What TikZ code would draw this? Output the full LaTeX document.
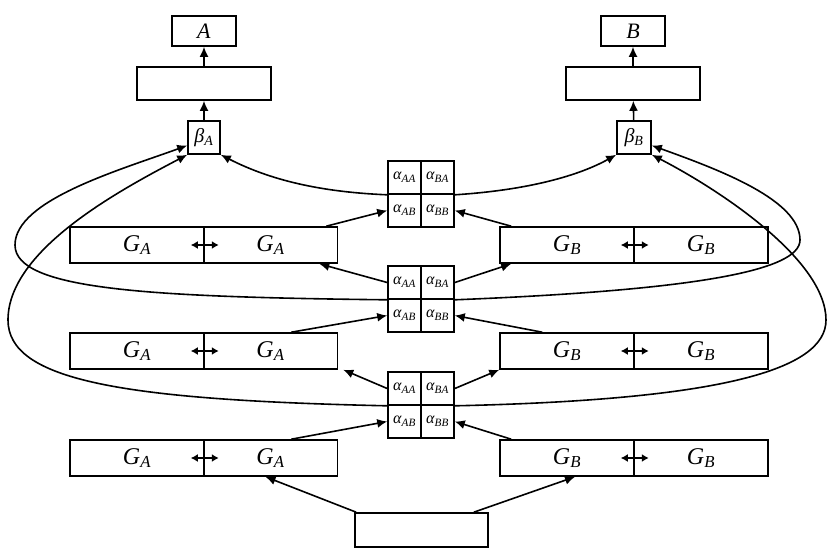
\documentclass[tikz,border=0pt]{standalone}
\usepackage{fontspec}
\setmainfont{Liberation Serif}
\usetikzlibrary{arrows.meta}
\newcommand{\ssb}[2]{\textit{#1}\textsubscript{\textit{#2}}}
\begin{document}
\begin{tikzpicture}[x=1pt,y=1pt,line width=1.6pt,
  box/.style={draw,inner sep=0pt,minimum width=#1},
  cell/.style={draw,inner sep=0pt,minimum width=33pt,minimum height=33pt,font=\fontsize{16}{16}\selectfont},
  gb/.style={draw,inner sep=0pt,minimum width=134pt,minimum height=36pt,font=\fontsize{24}{24}\selectfont},
  arr/.style={-{Latex[length=10pt,width=9pt]}},
  dbl/.style={{Latex[length=7pt,width=8pt]}-{Latex[length=7pt,width=8pt]}}]
\useasboundingbox (0,0) rectangle (832,-557);
\node[box=64pt,minimum height=30pt,font=\fontsize{22}{22}\selectfont] (A) at (204,-31) {\textit{A}};
\node[box=134pt,minimum height=33pt] (bA) at (204,-83.5) {};
\node[box=32pt,minimum height=33pt,font=\fontsize{20}{20}\selectfont] (betaA) at (204,-137.5) {\ssb{β}{A}};
\node[box=64pt,minimum height=30pt,font=\fontsize{22}{22}\selectfont] (B) at (633,-31) {\textit{B}};
\node[box=134pt,minimum height=33pt] (bB) at (633,-83.5) {};
\node[box=34pt,minimum height=33pt,font=\fontsize{20}{20}\selectfont] (betaB) at (634,-137.5) {\ssb{β}{B}};
\foreach \k/\t in {1/161,2/266,3/372}{
  \node[cell] (g\k aa) at (404.5,-\t-16.5) {\ssb{α}{AA}};
  \node[cell] (g\k ba) at (437.5,-\t-16.5) {\ssb{α}{BA}};
  \node[cell] (g\k ab) at (404.5,-\t-49.5) {\ssb{α}{AB}};
  \node[cell] (g\k bb) at (437.5,-\t-49.5) {\ssb{α}{BB}};
}
\foreach \k/\t in {1/227,2/333,3/440}{
  \node[gb] (ga\k l) at (137,-\t-18) {\ssb{G}{A}};
  \node[gb] (ga\k r) at (270.5,-\t-18) {\ssb{G}{A}};
  \node[gb] (gb\k l) at (567,-\t-18) {\ssb{G}{B}};
  \node[gb] (gb\k r) at (701,-\t-18) {\ssb{G}{B}};
  \draw[dbl] ([xshift=-14pt]ga\k l.east) -- ([xshift=14pt]ga\k l.east);
  \draw[dbl] ([xshift=-14pt]gb\k l.east) -- ([xshift=14pt]gb\k l.east);
}
\node[box=133pt,minimum height=34pt] (bot) at (421.5,-530) {};
\draw[arr] (betaA) -- (bA);
\draw[arr] (bA) -- (A);
\draw[arr] (betaB) -- (bB);
\draw[arr] (bB) -- (B);
\draw[arr] (g1aa.south west) .. controls (320,-192) and (270,-180) .. (betaA.south east);
\draw[arr] (g1ba.south east) .. controls (530,-190) and (580,-175) .. (betaB.south west);
\draw[arr] ([xshift=-12pt]ga1r.north east) -- (g1ab.west);
\draw[arr] ([xshift=12pt]gb1l.north west) -- (g1bb.east);
\draw[arr] (g2aa.west) -- ([xshift=-19pt]ga1r.south east);
\draw[arr] (g2ba.east) -- ([xshift=12pt]gb1l.south west);
\draw[arr] ([xshift=-47pt]ga2r.north east) -- (g2ab.west);
\draw[arr] ([xshift=43pt]gb2l.north west) -- (g2bb.east);
\draw[arr] (g3aa.west) -- ([xshift=5pt]ga2r.south east);
\draw[arr] (g3ba.east) -- (gb2l.south west);
\draw[arr] ([xshift=-47pt]ga3r.north east) -- (g3ab.west);
\draw[arr] ([xshift=12pt]gb3l.north west) -- (g3bb.east);
\draw[arr] ([xshift=2pt]bot.north west) -- ([xshift=-5pt]ga3r.south);
\draw[arr] ([xshift=-15pt]bot.north east) -- ([xshift=8pt]gb3l.south);
\draw[arr] (g2aa.south west) .. controls (150,-297) and (15,-290) .. (15,-245)
  .. controls (15,-200) and (120,-170) .. ([yshift=-8pt]betaA.west);
\draw[arr] (g3aa.south west) .. controls (120,-400) and (8,-380) .. (8,-320)
  .. controls (8,-250) and (120,-190) .. (betaA.south west);
\draw[arr] (g2ba.south east) .. controls (700,-290) and (800,-270) .. (800,-240)
  .. controls (800,-200) and (720,-170) .. ([yshift=-8pt]betaB.east);
\draw[arr] (g3ba.south east) .. controls (720,-400) and (826,-370) .. (826,-320)
  .. controls (826,-260) and (720,-190) .. (betaB.south east);
\end{tikzpicture}
\end{document}
